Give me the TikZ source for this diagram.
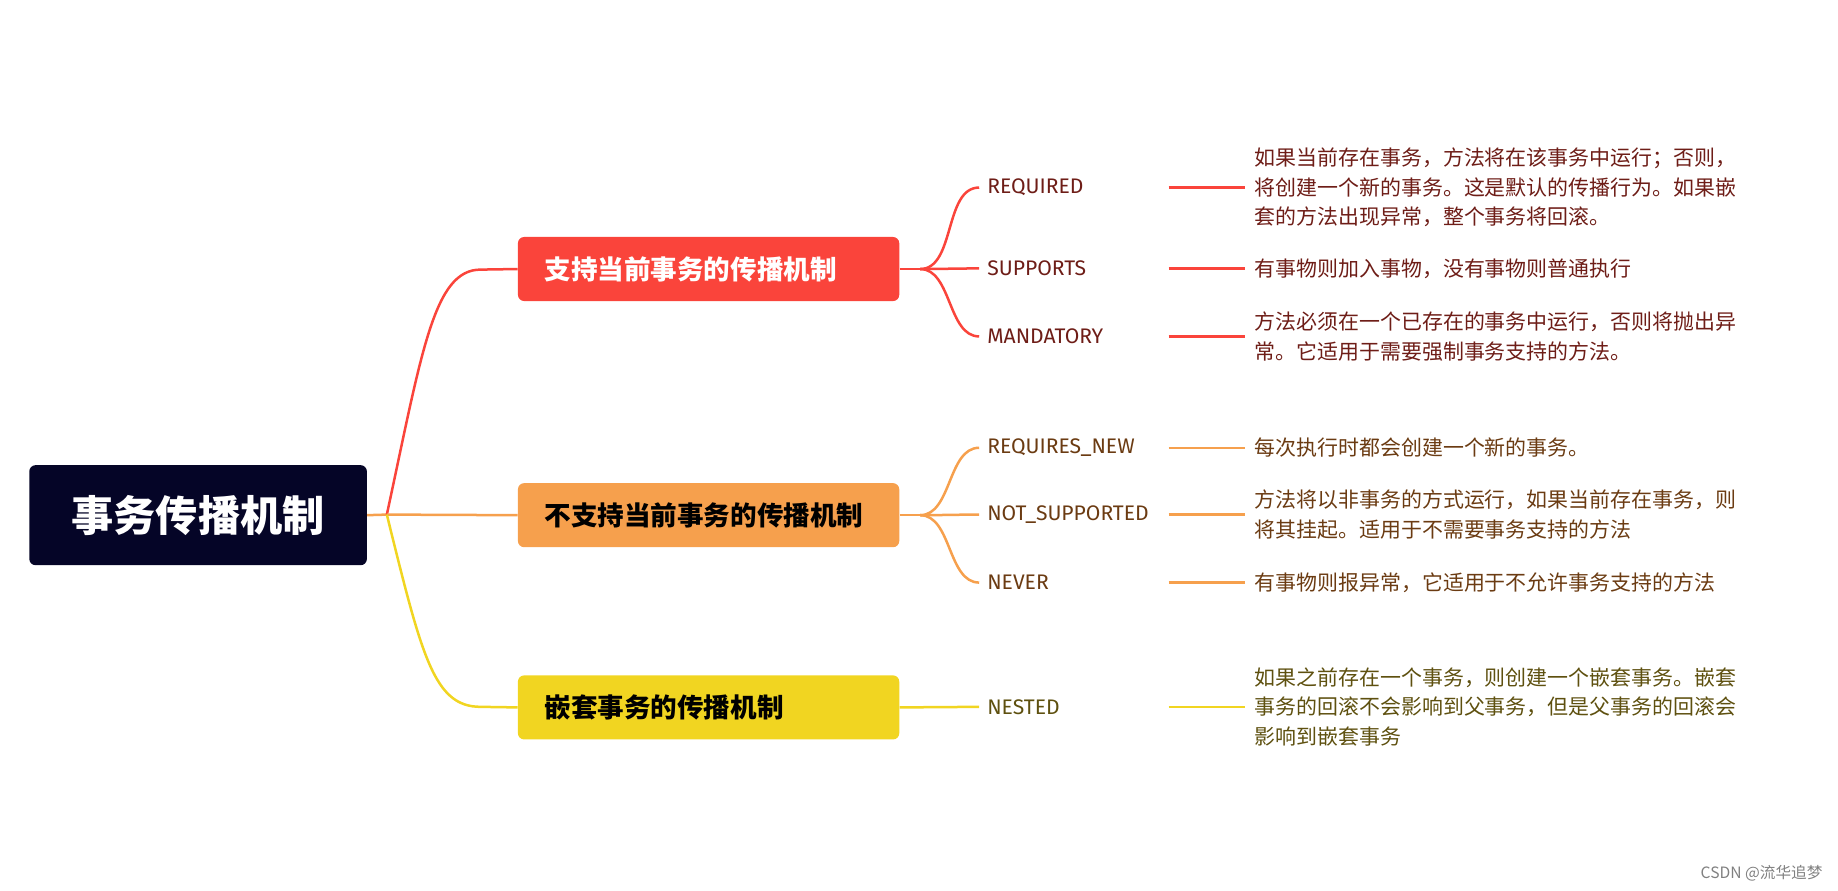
\documentclass[tikz,border=0pt]{standalone}
\usepackage{fontspec}
\setmainfont{Noto Sans CJK SC}
\newfontfamily\lbl{Fira Sans}
\begin{document}
\begin{tikzpicture}[x=0.75pt,y=-0.75pt,
  rootbox/.style={fill=rootc,rounded corners=4pt,minimum width=216pt,minimum height=64pt,text=white,font=\fontsize{27}{30}\selectfont\bfseries},
  brbox/.style={rounded corners=4pt,minimum width=244pt,minimum height=41pt,font=\fontsize{17}{20}\selectfont\bfseries,text width=210pt,align=left,inner xsep=17pt},
  lab/.style={anchor=west,font=\lbl\fontsize{13.5}{16}\selectfont,inner sep=0pt},
  note/.style={anchor=west,font=\fontsize{13.4}{19}\selectfont,inner sep=0pt,align=left},
  con/.style={line width=1.6pt}]
\definecolor{rootc}{HTML}{050527}
\definecolor{cred}{HTML}{FA443B}
\definecolor{cora}{HTML}{F6A04D}
\definecolor{cyel}{HTML}{F1D521}
\definecolor{tred}{HTML}{6E1D17}
\definecolor{tora}{HTML}{6B3B12}
\definecolor{tyel}{HTML}{5E500F}
\useasboundingbox (0,0) rectangle (1568,760);
\node[rootbox] (root) at (169,439.5) {事务传播机制};
\node[brbox,fill=cred,text=white] (b1) at (604.5,229.5) {支持当前事务的传播机制};
\node[brbox,fill=cora,text=black] (b2) at (604.5,439.5) {不支持当前事务的传播机制};
\node[brbox,fill=cyel,text=black] (b3) at (604.5,603.5) {嵌套事务的传播机制};
\coordinate (rj) at (330,439);
\draw[con,cora] (root.east) -- (rj);
\draw[con,cred] (rj) .. controls (360,300) and (370,230) .. (410,230) -- (b1.west);
\draw[con,cora] (rj) -- (b2.west);
\draw[con,cyel] (rj) .. controls (360,560) and (370,603) .. (410,603) -- (b3.west);
\foreach \n/\t/\y/\c in {r1/REQUIRED/160/tred, r2/SUPPORTS/229/tred, r3/MANDATORY/287/tred,
  o1/REQUIRES\_NEW/382/tora, o2/NOT\_SUPPORTED/439/tora, o3/NEVER/497/tora, y1/NESTED/603/tyel}
  {\node[lab,text=\c] (\n) at (842,\y) {\t};}
\coordinate (j1) at (785,229.5);
\coordinate (j2) at (785,439.5);
\draw[con,cred] (b1.east) -- (j1);
\draw[con,cora] (b2.east) -- (j2);
\foreach \n in {r1,r2,r3}{\draw[con,cred] (j1) to[out=0,in=180,looseness=0.9] ([xshift=-5pt]\n.west);}
\foreach \n in {o1,o2,o3}{\draw[con,cora] (j2) to[out=0,in=180,looseness=0.9] ([xshift=-5pt]\n.west);}
\draw[con,cyel] (b3.east) -- ([xshift=-5pt]y1.west);
\node[note,text=tred] (n1) at (1070,160) {如果当前存在事务，方法将在该事务中运行；否则，\\将创建一个新的事务。这是默认的传播行为。如果嵌\\套的方法出现异常，整个事务将回滚。};
\node[note,text=tred] (n2) at (1070,229) {有事物则加入事物，没有事物则普通执行};
\node[note,text=tred] (n3) at (1070,287) {方法必须在一个已存在的事务中运行，否则将抛出异\\常。它适用于需要强制事务支持的方法。};
\node[note,text=tora] (n4) at (1070,382) {每次执行时都会创建一个新的事务。};
\node[note,text=tora] (n5) at (1070,439) {方法将以非事务的方式运行，如果当前存在事务，则\\将其挂起。适用于不需要事务支持的方法};
\node[note,text=tora] (n6) at (1070,497) {有事物则报异常，它适用于不允许事务支持的方法};
\node[note,text=tyel] (n7) at (1070,603) {如果之前存在一个事务，则创建一个嵌套事务。嵌套\\事务的回滚不会影响到父事务，但是父事务的回滚会\\影响到嵌套事务};
\foreach \a/\b/\c in {r1/n1/cred,r2/n2/cred,r3/n3/cred,o1/n4/cora,o2/n5/cora,o3/n6/cora,y1/n7/cyel}
  {\draw[con,\c] (997,0 |- \a.west) -- ([xshift=-6pt]\b.west);}
\node[anchor=east,text=gray,font=\fontsize{10}{12}\selectfont,inner sep=0pt] (wm) at (1555,745) {CSDN @流华追梦};
\end{tikzpicture}
\end{document}
